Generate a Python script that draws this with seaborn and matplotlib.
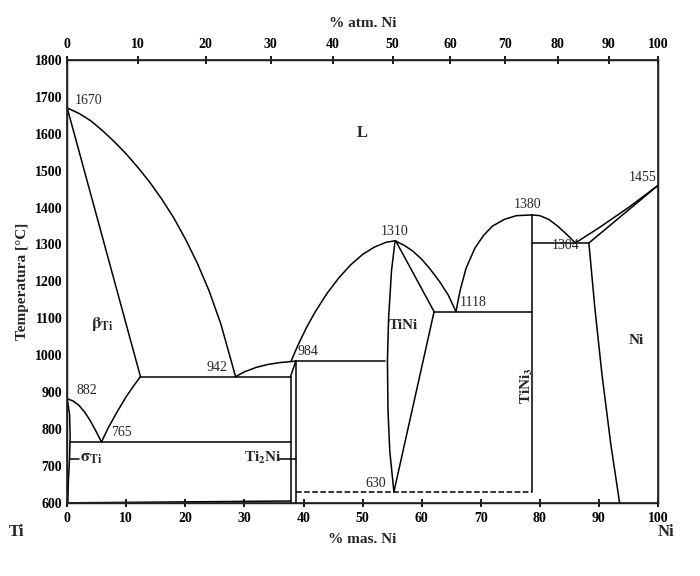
import numpy as np
import matplotlib
matplotlib.use("Agg")
import matplotlib.pyplot as plt
import seaborn as sns
import pandas as pd

sns.set_theme(style="white")
plt.rcParams['font.family'] = ['Liberation Serif', 'DejaVu Serif']
plt.rcParams['mathtext.fontset'] = 'stix'

# phase boundary curves (wt% Ni, T degC)
liq_ti_x = [0, 2, 4, 6, 8, 10, 12, 14, 16, 18, 20, 22, 24, 26, 28.5]
liq_ti_y = [1670, 1655, 1635, 1608, 1578, 1545, 1508, 1468, 1423, 1373, 1315, 1250, 1175, 1085, 942]
sol_ti_x = [0, 12.4]; sol_ti_y = [1670, 942]
solv1_x = [0, 1, 2, 3, 4, 5, 5.8]; solv1_y = [882, 876, 864, 845, 820, 790, 765]
solv2_x = [5.8, 7, 8.5, 10, 11.3, 12.4]; solv2_y = [765, 805, 848, 888, 918, 942]
alpha_x = [0, 0.4, 0.5, 0.4, 0.2, 0.1]; alpha_y = [882, 840, 780, 720, 660, 600]
liq2_x = [28.5, 30, 32, 34, 36, 38.7]; liq2_y = [942, 955, 967, 975, 980, 984]
liq3_x = [37.9, 39, 40.5, 42, 44, 46, 48, 50, 52, 54, 55.5]
liq3_y = [984, 1025, 1075, 1118, 1168, 1210, 1245, 1273, 1293, 1306, 1310]
liq4_x = [55.5, 57, 58.5, 60, 61.5, 63, 64.5, 65.8]
liq4_y = [1310, 1298, 1282, 1260, 1232, 1200, 1163, 1118]
tini_l_x = [55.5, 54.9, 54.4, 54.2, 54.3, 54.6, 55.3]
tini_l_y = [1310, 1230, 1100, 984, 850, 740, 630]
tini_r_x = [55.3, 62.1, 55.6]; tini_r_y = [630, 1118, 1310]
liq5_x = [65.8, 66.5, 67.5, 69, 70.5, 72, 74, 76, 78.7]
liq5_y = [1118, 1175, 1235, 1290, 1325, 1350, 1368, 1378, 1380]
liq6_x = [78.7, 80, 81.5, 83, 84.5, 86]; liq6_y = [1380, 1378, 1368, 1350, 1328, 1304]
liq7_x = [86, 90, 95, 100]; liq7_y = [1304, 1345, 1400, 1460]
sol_ni_x = [88.3, 94, 100]; sol_ni_y = [1304, 1380, 1460]
solv_ni_x = [88.3, 89.3, 90.5, 92, 93.5]; solv_ni_y = [1304, 1130, 950, 760, 600]
# horizontals: (x0, x1, T)
iso = [(12.4, 37.8, 942), (0.5, 37.8, 765), (38.7, 53.8, 984), (62.1, 78.7, 1118), (78.7, 88.3, 1304)]
verticals = [(37.8, 600, 942), (38.7, 600, 984), (78.7, 630, 1380)]
dash_x = [38.7, 78.7]; dash_y = [630, 630]
bottom_x = [0, 37.8]; bottom_y = [600, 605]
at_ticks = [0, 10, 20, 30, 40, 50, 60, 70, 80, 90, 100]

fig, ax = plt.subplots(figsize=(7.0, 5.76), dpi=100)
fig.subplots_adjust(left=0.096, right=0.94, top=0.896, bottom=0.127)
k = dict(color='black', lw=1.1)
def line(x, y, **kw):
    sns.lineplot(x=x, y=y, ax=ax, sort=False, estimator=None, **{**k, **kw})
for xs, ys in [(liq_ti_x, liq_ti_y), (sol_ti_x, sol_ti_y), (solv1_x, solv1_y), (solv2_x, solv2_y),
               (alpha_x, alpha_y), (liq2_x, liq2_y), (liq3_x, liq3_y), (liq4_x, liq4_y),
               (tini_l_x, tini_l_y), (tini_r_x, tini_r_y), (liq5_x, liq5_y), (liq6_x, liq6_y),
               (liq7_x, liq7_y), (sol_ni_x, sol_ni_y), (solv_ni_x, solv_ni_y), (bottom_x, bottom_y)]:
    line(xs, ys)
for x0, x1, t in iso:
    line([x0, x1], [t, t])
for x, t0, t1 in verticals:
    line([x, x], [t0, t1])
line([37.8, 38.7], [942, 984])
line(dash_x, dash_y, linestyle='--')

ax.set_xlim(0, 100); ax.set_ylim(600, 1800)
ax.set_xticks(range(0, 101, 10)); ax.set_yticks(range(600, 1801, 100))
for s in ax.spines.values():
    s.set_color('black'); s.set_linewidth(1)
ax.tick_params(direction='in', length=4, labelsize=10, colors='black')
ax.tick_params(axis='x', direction='inout', length=6)
ax.set_ylabel('Temperatura [°C]', fontweight='bold', fontsize=11)
ax.set_xlabel('% mas. Ni', fontweight='bold', fontsize=11, labelpad=6)
for lbl in ax.get_xticklabels() + ax.get_yticklabels():
    lbl.set_fontweight('bold')

def at2wt(a):
    a = np.asarray(a, float)
    return 100 * a * 58.69 / (a * 58.69 + (100 - a) * 47.87)
top = ax.twiny()
top.set_xlim(0, 100)
top.set_xticks(at2wt(at_ticks))
top.set_xticklabels([str(t) for t in at_ticks], fontweight='bold', fontsize=10)
top.tick_params(direction='inout', length=6, colors='black')
top.set_xlabel('% atm. Ni', fontweight='bold', fontsize=11, labelpad=8)

fs = 10
txt = [(1.2, 1672, '1670'), (1.5, 888, '882'), (7.5, 772, '765'), (23.5, 950, '942'),
       (39, 992, '984'), (53, 1318, '1310'), (66.5, 1124, '1118'), (75.5, 1390, '1380'),
       (82, 1280, '1304'), (95, 1465, '1455'), (50.5, 636, '630')]
for x, y, s in txt:
    ax.text(x, y, s, fontsize=fs, va='bottom')
ax.text(49, 1590, 'L', fontsize=12, fontweight='bold')
ax.text(4, 1075, r'$\mathbf{\beta_{Ti}}$', fontsize=12)
ax.text(54.5, 1070, 'TiNi', fontsize=11, fontweight='bold')
ax.text(95, 1030, 'Ni', fontsize=11, fontweight='bold')
ax.text(76.5, 880, r'TiNi$_\mathbf{3}$', fontsize=11, fontweight='bold', rotation=90)
ax.text(2.2, 712, r'$\mathbf{\sigma_{Ti}}$', fontsize=12)
line([0.5, 2], [720, 720])
ax.text(30, 712, r'Ti$_\mathbf{2}$Ni', fontsize=11, fontweight='bold')
line([35.8, 38.7], [720, 720])
fig.text(0.012, 0.07, 'Ti', fontsize=12, fontweight='bold')
fig.text(0.94, 0.07, 'Ni', fontsize=12, fontweight='bold')
fig.savefig('out.png', dpi=100)
